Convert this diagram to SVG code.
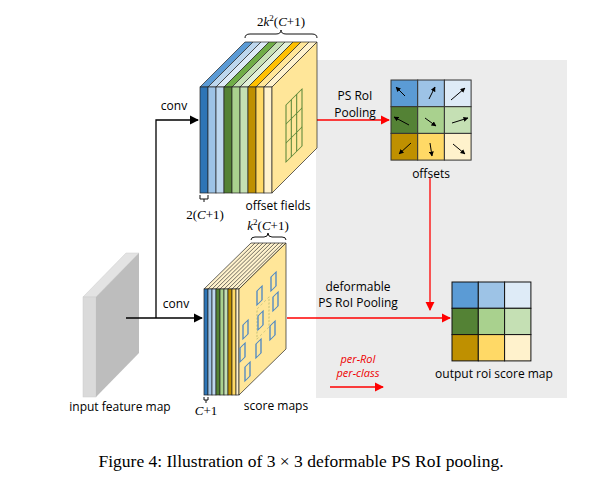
<svg xmlns="http://www.w3.org/2000/svg" width="602" height="482" viewBox="0 0 602 482">
<defs>
<style>
text{font-family:"Open Sans","Liberation Sans",sans-serif;font-size:12px;fill:#000}
.m{font-family:"Liberation Serif",serif;font-size:13px}
.r{fill:#e00;font-style:italic;font-size:11px}
.s{stroke:#222;stroke-width:0.7}
.bl{stroke:#000;stroke-width:1.3;fill:none}
.rl{stroke:#f00;stroke-width:1.3;fill:none}
.g{stroke:#111;stroke-width:1;fill:none}
</style>
<marker id="ab" viewBox="0 0 10 10" refX="9" refY="5" markerWidth="7" markerHeight="7" orient="auto"><path d="M0,0L10,5L0,10z" fill="#000"/></marker>
<marker id="ar" viewBox="0 0 10 10" refX="9" refY="5" markerWidth="7" markerHeight="7" orient="auto"><path d="M0,0L10,5L0,10z" fill="#f00"/></marker>
<marker id="as" viewBox="0 0 10 10" refX="9" refY="5" markerWidth="5" markerHeight="5" orient="auto"><path d="M0,0L10,5L0,10z" fill="#000"/></marker>
</defs>
<rect width="602" height="482" fill="#fff"/>
<rect x="316" y="60" width="251" height="338" fill="#ececec"/>

<g id="input">
<polygon points="83,297 96,297 139,253 126,253" fill="#e3e3e3" stroke="#ccc" stroke-width="0.5"/>
<rect x="83" y="297" width="13" height="100" fill="#dadada" stroke="#ccc" stroke-width="0.5"/>
<polygon points="96,297 139,253 139,353 96,397" fill="#bdbdbd"/>
<text x="120" y="411" text-anchor="middle">input feature map</text>
</g>

<g id="connectors">
<path class="bl" d="M126,318H202" marker-end="url(#ab)"/>
<path class="bl" d="M156,318V120H198" marker-end="url(#ab)"/>
<text x="174" y="110" text-anchor="middle">conv</text>
<text x="176" y="308" text-anchor="middle">conv</text>
<path class="rl" d="M312,120H389" marker-end="url(#ar)"/>
<text x="355" y="100" text-anchor="middle">PS RoI</text>
<text x="355" y="117" text-anchor="middle">Pooling</text>
<path class="rl" d="M430,178V310" marker-end="url(#ar)"/>
<path class="rl" d="M287,318H450" marker-end="url(#ar)"/>
<text x="358" y="291" text-anchor="middle">deformable</text>
<text x="358" y="307" text-anchor="middle">PS RoI Pooling</text>
<path class="rl" d="M330,387H383" marker-end="url(#ar)"/>
<text class="r" x="358" y="363" text-anchor="middle">per-RoI</text>
<text class="r" x="358" y="377" text-anchor="middle">per-class</text>
</g>

<g id="offset-fields">
<g class="s">
<polygon points="200,87 208,87 253,42 245,42" fill="#5b9bd5"/>
<polygon points="208,87 216,87 261,42 253,42" fill="#bdd7ee"/>
<polygon points="216,87 224,87 269,42 261,42" fill="#deebf7"/>
<polygon points="224,87 232,87 277,42 269,42" fill="#70ad47"/>
<polygon points="232,87 240,87 285,42 277,42" fill="#c5e0b4"/>
<polygon points="240,87 248,87 293,42 285,42" fill="#e2f0d9"/>
<polygon points="248,87 256,87 301,42 293,42" fill="#ffc000"/>
<polygon points="256,87 264,87 309,42 301,42" fill="#ffe699"/>
<polygon points="264,87 272,87 317,42 309,42" fill="#fff2cc"/>
<rect x="200" y="87" width="8" height="106" fill="#2e75b6"/>
<rect x="208" y="87" width="8" height="106" fill="#9dc3e6"/>
<rect x="216" y="87" width="8" height="106" fill="#bdd7ee"/>
<rect x="224" y="87" width="8" height="106" fill="#548235"/>
<rect x="232" y="87" width="8" height="106" fill="#a9d18e"/>
<rect x="240" y="87" width="8" height="106" fill="#c5e0b4"/>
<rect x="248" y="87" width="8" height="106" fill="#bf9000"/>
<rect x="256" y="87" width="8" height="106" fill="#ffd966"/>
<rect x="264" y="87" width="8" height="106" fill="#fff2cc"/>
<polygon points="272,87 317,42 317,148 272,193" fill="#ffe699"/>
</g>
<g transform="translate(272,87) skewY(-45)" stroke="#548235" stroke-width="1" fill="none">
<rect x="14" y="32" width="16" height="57"/>
<path d="M19.3,32V89M24.7,32V89M14,51H30M14,70H30"/>
</g>
<path d="M200,195V199H208V195M204,199V202" class="g" stroke-width="0.8"/>
<path d="M245,38Q245,34 250,34H276Q281,34 281,30Q281,34 286,34H312Q317,34 317,38" class="g"/>
<text class="m" x="281" y="26" text-anchor="middle"><tspan>2</tspan><tspan font-style="italic">k</tspan><tspan font-size="9" dy="-5">2</tspan><tspan dy="5">(</tspan><tspan font-style="italic">C</tspan><tspan>+1)</tspan></text>
<text class="m" x="205" y="219" text-anchor="middle"><tspan>2(</tspan><tspan font-style="italic">C</tspan><tspan>+1)</tspan></text>
<text x="278" y="210" text-anchor="middle">offset fields</text>
</g>

<g id="score-maps">
<g class="s" stroke-width="0.5">
<polygon points="204,289 239,289 286,243 251,243" fill="#fff2cc"/>
<path d="M208,289L255,243M212,289L259,243M216,289L263,243M220,289L267,243M224,289L271,243M228,289L275,243M232,289L279,243M236,289L283,243" stroke="#333"/>
<rect x="204" y="289" width="4" height="106" fill="#2e75b6"/>
<rect x="208" y="289" width="4" height="106" fill="#9dc3e6"/>
<rect x="212" y="289" width="4" height="106" fill="#bdd7ee"/>
<rect x="216" y="289" width="4" height="106" fill="#548235"/>
<rect x="220" y="289" width="4" height="106" fill="#a9d18e"/>
<rect x="224" y="289" width="4" height="106" fill="#c5e0b4"/>
<rect x="228" y="289" width="4" height="106" fill="#bf9000"/>
<rect x="232" y="289" width="4" height="106" fill="#ffd966"/>
<rect x="236" y="289" width="3" height="106" fill="#fff2cc"/>
<polygon points="239,289 286,243 286,349 239,395" fill="#ffe699" stroke="#222"/>
</g>
<g transform="translate(239,289) skewY(-45)" stroke="#4a86c5" stroke-width="1.3" fill="none">
<rect x="18" y="38" width="12" height="30" stroke="#a9b06a" stroke-dasharray="2,1.5" stroke-width="0.7"/>
<rect x="4" y="40" width="5" height="14"/>
<rect x="18" y="20" width="5" height="14"/>
<rect x="32" y="20" width="5" height="14"/>
<rect x="1" y="60" width="5" height="14"/>
<rect x="19" y="46" width="5" height="14"/>
<rect x="34" y="42" width="5" height="14"/>
<rect x="6" y="84" width="5" height="14"/>
<rect x="17" y="72" width="5" height="14"/>
<rect x="31" y="68" width="5" height="14"/>
</g>
<path d="M204,397V400H208V397M206,400V403" class="g" stroke-width="0.8"/>
<path d="M251,240Q251,237 255,237H264Q268,237 268,233Q268,237 272,237H282Q286,237 286,240" class="g"/>
<text class="m" x="268" y="230" text-anchor="middle"><tspan font-style="italic">k</tspan><tspan font-size="9" dy="-5">2</tspan><tspan dy="5">(</tspan><tspan font-style="italic">C</tspan><tspan>+1)</tspan></text>
<text class="m" x="206" y="415" text-anchor="middle"><tspan font-style="italic">C</tspan><tspan>+1</tspan></text>
<text x="276" y="410" text-anchor="middle">score maps</text>
</g>

<g id="offsets">
<g stroke="#333" stroke-width="1">
<rect x="391" y="80" width="26.7" height="26.7" fill="#5b9bd5"/>
<rect x="417.7" y="80" width="26.7" height="26.7" fill="#9dc3e6"/>
<rect x="444.4" y="80" width="26.7" height="26.7" fill="#deebf7"/>
<rect x="391" y="106.7" width="26.7" height="26.7" fill="#548235"/>
<rect x="417.7" y="106.7" width="26.7" height="26.7" fill="#a9d18e"/>
<rect x="444.4" y="106.7" width="26.7" height="26.7" fill="#c5e0b4"/>
<rect x="391" y="133.4" width="26.7" height="26.7" fill="#bf9000"/>
<rect x="417.7" y="133.4" width="26.7" height="26.7" fill="#ffd966"/>
<rect x="444.4" y="133.4" width="26.7" height="26.7" fill="#fff2cc"/>
</g>
<g stroke="#000" stroke-width="1" marker-end="url(#as)">
<path d="M405,96L396,87"/>
<path d="M429,99L435,87"/>
<path d="M451,100L465,88"/>
<path d="M409,125L394,117"/>
<path d="M425,118L436,126"/>
<path d="M452,123L468,118"/>
<path d="M411,143L399,154"/>
<path d="M430,143L432,156"/>
<path d="M453,144L465,154"/>
</g>
<text x="431" y="178" text-anchor="middle">offsets</text>
</g>

<g id="output">
<g stroke="#111" stroke-width="1">
<rect x="452" y="282" width="26.3" height="26.3" fill="#5b9bd5"/>
<rect x="478.3" y="282" width="26.3" height="26.3" fill="#9dc3e6"/>
<rect x="504.6" y="282" width="26.3" height="26.3" fill="#deebf7"/>
<rect x="452" y="308.3" width="26.3" height="26.3" fill="#548235"/>
<rect x="478.3" y="308.3" width="26.3" height="26.3" fill="#a9d18e"/>
<rect x="504.6" y="308.3" width="26.3" height="26.3" fill="#c5e0b4"/>
<rect x="452" y="334.6" width="26.3" height="26.3" fill="#bf9000"/>
<rect x="478.3" y="334.6" width="26.3" height="26.3" fill="#ffd966"/>
<rect x="504.6" y="334.6" width="26.3" height="26.3" fill="#fff2cc"/>
</g>
<text x="494" y="378" text-anchor="middle">output roi score map</text>
</g>

<text x="301" y="467" text-anchor="middle" style="font-family:'Liberation Serif',serif;font-size:17.5px">Figure 4: Illustration of 3 × 3 deformable PS RoI pooling.</text>
</svg>
